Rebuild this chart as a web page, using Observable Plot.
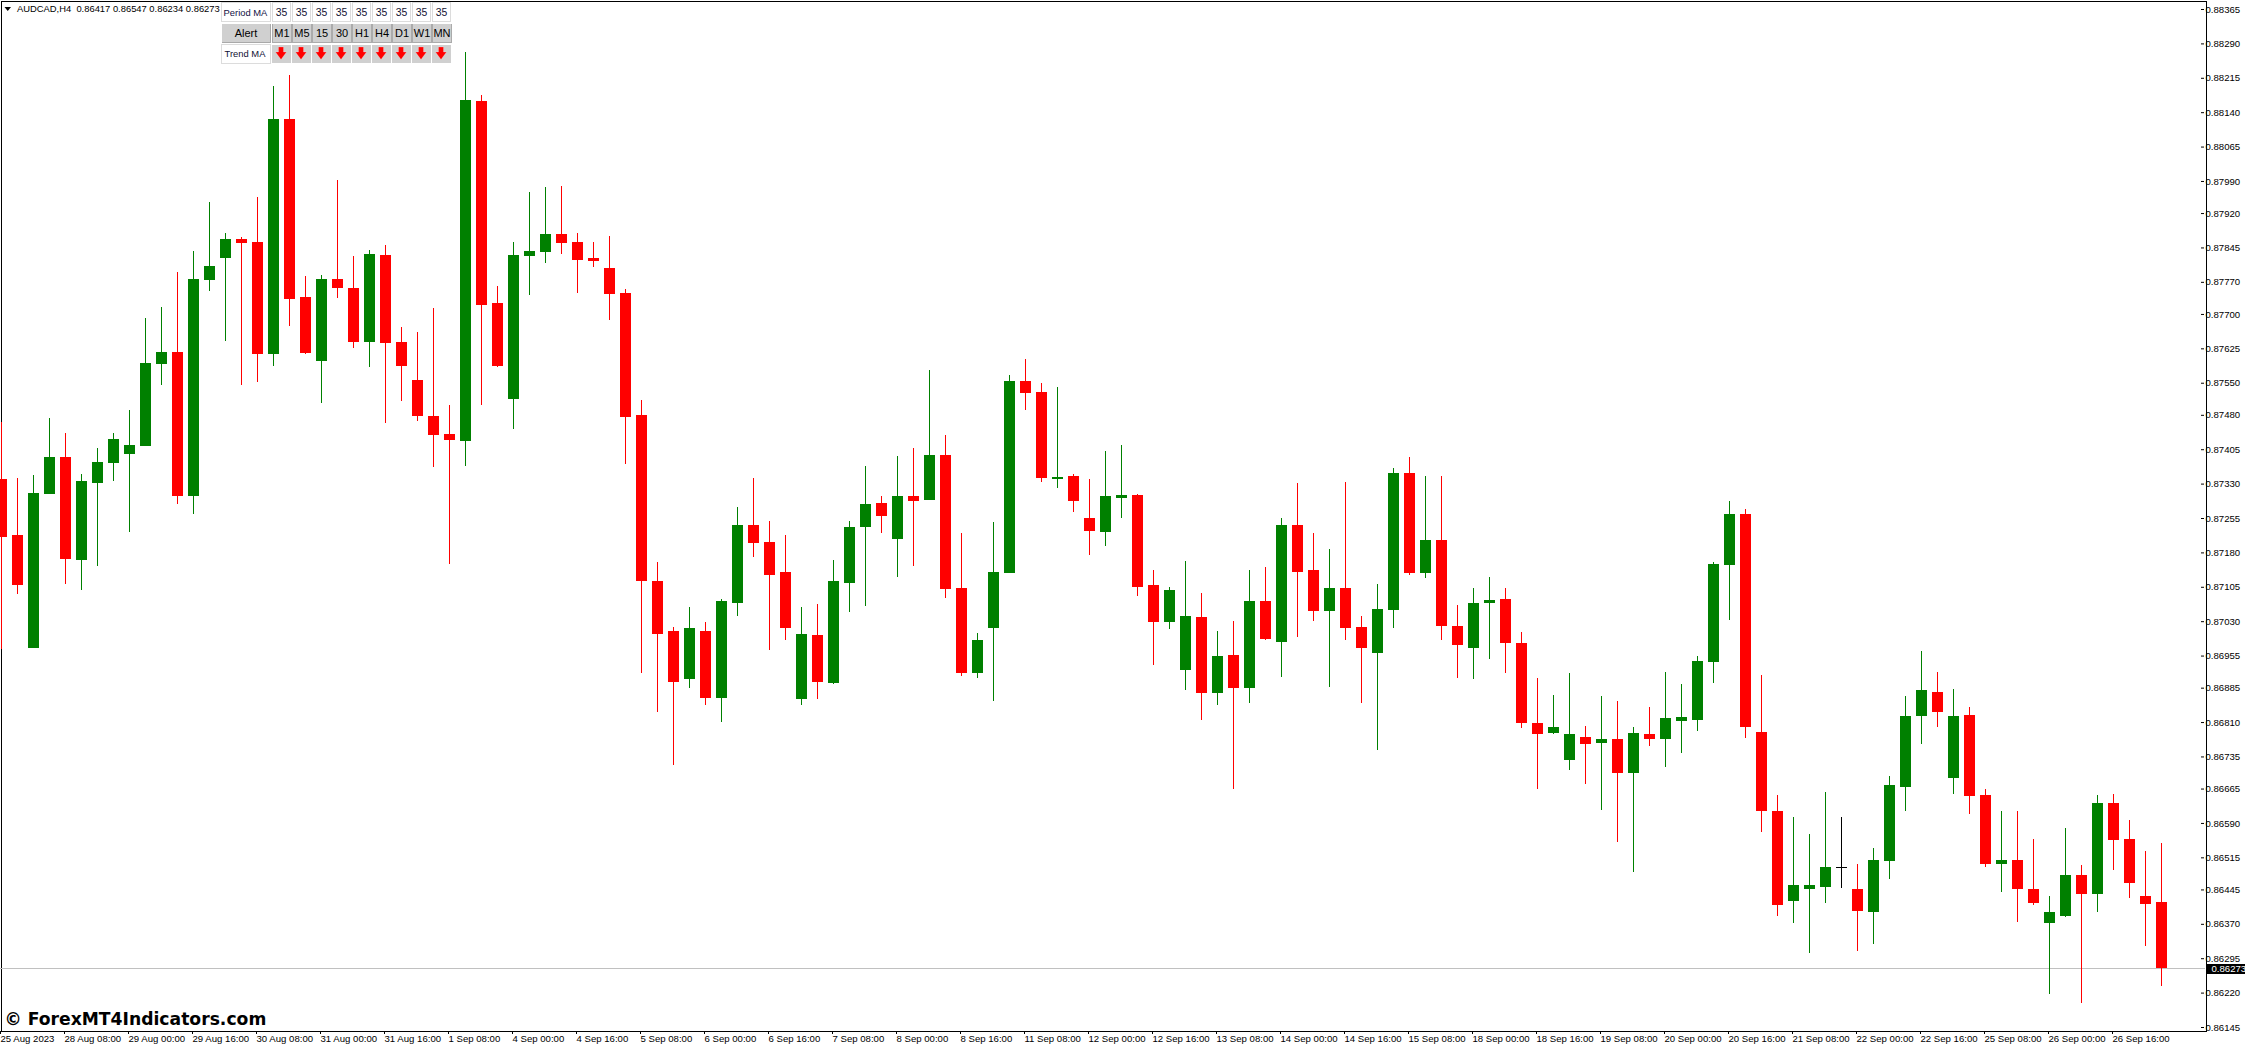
<!DOCTYPE html>
<html>
<head>
<meta charset="utf-8">
<script src="https://cdn.jsdelivr.net/npm/d3@7"></script>
<script src="https://cdn.jsdelivr.net/npm/@observablehq/plot@0.6"></script>
<style>html,body{margin:0;padding:0;background:#fff}svg{display:block}</style>
</head>
<body>
<div id="chart"></div>
<script>
// Prices in points (1 point = 0.00001)
const opens = [87341,87217,86972,87308,87387,87164,87332,87376,87395,87413,
87591,87618,87302,87775,87823,87864,87857,87613,88126,87738,
87598,87777,87757,87639,87829,87639,87557,87478,87439,87424,
88165,87724,87515,87827,87836,87875,87857,87823,87801,87746,
87480,87118,87009,86903,87009,86863,87070,87240,87203,87138,
86861,86999,86896,87114,87236,87288,87210,87304,87295,87393,
87103,86918,87016,87136,87554,87530,87341,87347,87254,87225,
87299,87306,87108,87029,86924,87040,86874,86957,86885,87075,
86985,87240,87142,87053,87103,87018,86961,87055,87354,87134,
87206,87020,86972,87070,87079,86983,86809,86787,86728,86778,
86765,86772,86698,86785,86772,86813,86815,86942,87153,87264,
86789,86617,86419,86447,86451,86493,86445,86395,86508,86669,
86824,86876,86689,86826,86650,86501,86510,86447,86371,86388,
86477,86434,86634,86554,86430,86417];
const highs = [87465,87343,87349,87472,87441,87352,87408,87441,87491,87692,
87716,87792,87838,87945,87877,87868,87956,88198,88221,87783,
87785,87993,87827,87840,87851,87672,87661,87714,87502,88272,
88178,87762,87857,87966,87977,87980,87877,87857,87871,87755,
87513,87158,87018,87060,87029,87079,87278,87343,87249,87219,
87062,87068,87164,87249,87369,87304,87391,87408,87578,87437,
87223,87005,87247,87567,87602,87550,87541,87352,87339,87402,
87415,87308,87142,87105,87162,87092,87009,87031,87142,87149,
87256,87332,87223,87188,87334,87042,87110,87365,87387,87347,
87347,87066,87103,87127,87103,87007,86907,86868,86918,86802,
86866,86855,86800,86842,86920,86894,86953,87158,87291,87275,
86913,86650,86604,86565,86658,86602,86501,86536,86693,86866,
86964,86920,86883,86842,86665,86615,86617,86556,86430,86578,
86499,86650,86654,86597,86528,86547];
const lows = [86970,87090,86972,87308,87110,87097,87151,87336,87225,87413,
87546,87286,87264,87751,87642,87544,87552,87587,87674,87613,
87506,87735,87626,87585,87463,87511,87467,87367,87155,87369,
87502,87585,87450,87742,87812,87831,87746,87803,87687,87373,
86918,86831,86717,86885,86848,86811,87042,87171,86968,86988,
86848,86861,86894,87049,87064,87223,87127,87151,87295,87081,
86911,86905,86857,87136,87491,87334,87321,87267,87175,87193,
87256,87084,86935,87014,86879,86815,86848,86663,86852,86990,
86909,86996,87031,86887,86988,86852,86750,87016,87131,87125,
86988,86907,86903,86948,86918,86798,86663,86783,86706,86674,
86619,86549,86484,86757,86711,86743,86791,86896,87033,86776,
86571,86386,86371,86307,86416,86449,86310,86327,86467,86615,
86763,86800,86654,86610,86495,86440,86373,86412,86216,86384,
86198,86395,86488,86427,86321,86234];
const closes = [87214,87108,87310,87387,87166,87336,87378,87428,87415,87594,
87618,87304,87777,87805,87864,87855,87613,88126,87733,87615,
87777,87757,87639,87831,87637,87587,87478,87437,87426,88167,
87720,87587,87829,87838,87875,87855,87818,87816,87744,87476,
87118,87003,86898,87016,86863,87073,87240,87201,87131,87016,
87001,86898,87118,87236,87286,87260,87304,87293,87393,87101,
86918,86988,87138,87554,87528,87343,87345,87293,87227,87302,
87306,87105,87029,87097,87042,86874,86953,86885,87075,86992,
87240,87138,87053,87103,87016,86972,87057,87354,87136,87206,
87020,86979,87070,87077,86983,86809,86785,86800,86783,86763,
86774,86698,86787,86774,86818,86820,86944,87155,87264,86800,
86615,86412,86454,86454,86493,86493,86397,86510,86672,86824,
86881,86831,86824,86648,86501,86510,86447,86416,86395,86477,
86434,86634,86552,86460,86414,86273];

const yTicks = [88365,88290,88215,88140,88065,87990,87920,87845,87770,87700,87625,87550,87480,87405,87330,87255,87180,87105,87030,86955,86885,86810,86735,86665,86590,86515,86445,86370,86295,86220,86145];
const xLabels = ["25 Aug 2023","28 Aug 08:00","29 Aug 00:00","29 Aug 16:00","30 Aug 08:00","31 Aug 00:00","31 Aug 16:00","1 Sep 08:00","4 Sep 00:00","4 Sep 16:00","5 Sep 08:00","6 Sep 00:00","6 Sep 16:00","7 Sep 08:00","8 Sep 00:00","8 Sep 16:00","11 Sep 08:00","12 Sep 00:00","12 Sep 16:00","13 Sep 08:00","14 Sep 00:00","14 Sep 16:00","15 Sep 08:00","18 Sep 00:00","18 Sep 16:00","19 Sep 08:00","20 Sep 00:00","20 Sep 16:00","21 Sep 08:00","22 Sep 00:00","22 Sep 16:00","25 Sep 08:00","26 Sep 00:00","26 Sep 16:00"];
const xTickEvery = 4;
const lastPrice = 86273;
const title = "AUDCAD,H4  0.86417 0.86547 0.86234 0.86273";
const watermark = "\u00A9 ForexMT4Indicators.com";
const periods = ["35","35","35","35","35","35","35","35","35"];
const timeframes = ["M1","M5","15","30","H1","H4","D1","W1","MN"];

const FONT = "'Liberation Sans', Arial, sans-serif";
const GREEN = "#008000", RED = "#ff0000";

const bars = opens.map((o, i) => ({
  i, o, h: highs[i], l: lows[i], c: closes[i],
  color: closes[i] > o ? GREEN : closes[i] < o ? RED : "#000000"
}));

function panelMark() {
  const g = d3.create("svg:g").attr("font-family", FONT);
  const text = (s, x, y, size, anchor = "middle", fill = "#000") =>
    g.append("text").attr("x", x).attr("y", y).attr("dy", "0.36em").attr("text-anchor", anchor)
      .attr("font-size", size).attr("fill", fill).attr("xml:space", "preserve").text(s);
  const rect = (x, y, w, h, fill, stroke) =>
    g.append("rect").attr("x", x).attr("y", y).attr("width", w).attr("height", h)
      .attr("fill", fill).attr("stroke", stroke || "none").attr("shape-rendering", "crispEdges");
  // panel first, then the title on top of nothing else
  const cellX = k => 272 + 20 * k;
  // row 1
  rect(221.5, 2.5, 49, 19, "#fff", "#dcdcdc");
  text("Period MA", 245.5, 12.3, 9.4, "middle", "#111144");
  periods.forEach((p, k) => {
    rect(cellX(k) + .5, 2.5, 18, 19, "#fff", "#dcdcdc");
    text(p, cellX(k) + 9.5, 12.5, 10.4, "middle", "#111133");
  });
  // row 2
  rect(222, 24, 49, 19, "#a9a9a9");
  rect(222, 24, 48, 18, "#d0d0d0");
  text("Alert", 246, 33.5, 11);
  timeframes.forEach((t, k) => {
    rect(cellX(k), 24, 20, 19, "#ababab");
    rect(cellX(k) + 1, 24, 18, 18, "#d0d0d0");
    text(t, cellX(k) + 10, 33.5, 11);
  });
  // row 3
  rect(221.5, 44.5, 49, 19, "#fff", "#dcdcdc");
  text("Trend MA", 245, 53.5, 9.4, "middle", "#111133");
  timeframes.forEach((t, k) => {
    const x0 = cellX(k);
    rect(x0, 45, 19, 18, "#d0d0d0");
    const cx = x0 + 9;
    g.append("path")
      .attr("d", `M${cx - 2.5} 47H${cx + 2.5}V52H${cx + 5.5}L${cx} 59.5L${cx - 5.5} 52H${cx - 2.5}Z`)
      .attr("fill", RED).attr("stroke", "#fff").attr("stroke-opacity", 0.5).attr("stroke-width", 0.4);
  });
  // title
  g.append("path").attr("d", "M4.5 7L11 7L7.75 11Z").attr("fill", "#000");
  text(title, 17, 9, 9.4, "start");
  return g.node();
}

const candleStyle = {shapeRendering: "crispEdges"};

const chart = Plot.plot({
  width: 2245,
  height: 1045,
  marginTop: 0, marginLeft: 0, marginRight: 39, marginBottom: 14,
  style: {background: "#fff", fontFamily: FONT, color: "#000"},
  x: {type: "linear", domain: [0, 135], range: [1, 2161], label: null},
  y: {type: "linear", domain: [yTicks[0], yTicks[yTicks.length - 1]], range: [9, 1027], label: null},
  color: {type: "identity"},
  marks: [
    Plot.frame({stroke: "#000", strokeWidth: 1, insetLeft: 0.5, insetTop: 0.5, insetRight: 0.5, insetBottom: 0.5, ...candleStyle}),
    Plot.ruleY([lastPrice], {y: d => d, stroke: "#c0c0c0", strokeWidth: 1, x1: 0 - 1 / 16, x2: (2205 - 1) / 16, ...candleStyle}),
    Plot.ruleX(bars, {x: "i", y1: "l", y2: "h", stroke: "color", strokeWidth: 1, ...candleStyle}),
    Plot.ruleX(bars.filter(d => d.o !== d.c), {x: "i", y1: "o", y2: "c", stroke: "color", strokeWidth: 11, ...candleStyle}),
    Plot.ruleY(bars.filter(d => d.o === d.c), {y: "c", x1: d => d.i - 5.5 / 16, x2: d => d.i + 5.5 / 16, stroke: "color", strokeWidth: 1, ...candleStyle}),
    Plot.axisY({
      anchor: "right", ticks: yTicks, tickSize: 3, tickPadding: 2, label: null,
      tickFormat: d => (d / 1e5).toFixed(5), fontSize: 9.6, stroke: "#000", dx: -6
    }),
    Plot.axisX({
      anchor: "bottom", ticks: xLabels.map((_, k) => k * xTickEvery), tickSize: 3, tickPadding: 1, label: null,
      tickFormat: d => xLabels[d / xTickEvery], textAnchor: "start", dx: -1, fontSize: 9.6, stroke: "#000"
    }),
    // current price tag
    Plot.ruleY([lastPrice], {y: d => d, stroke: "#000", strokeWidth: 10, x1: (2207 - 1) / 16, x2: (2245 - 1) / 16, ...candleStyle}),
    Plot.text([lastPrice], {y: d => d, text: d => (d / 1e5).toFixed(5), frameAnchor: "right", dx: 5, textAnchor: "start", fill: "#fff", fontSize: 9.6}),
    Plot.text([watermark], {text: d => d, frameAnchor: "bottom-left", dx: 4, dy: -7, fontSize: 17.2, fontWeight: "bold", fontFamily: "'DejaVu Sans', sans-serif", textAnchor: "start", fill: "#000"}),
    panelMark
  ]
});
document.getElementById("chart").append(chart);
</script>
</body>
</html>
